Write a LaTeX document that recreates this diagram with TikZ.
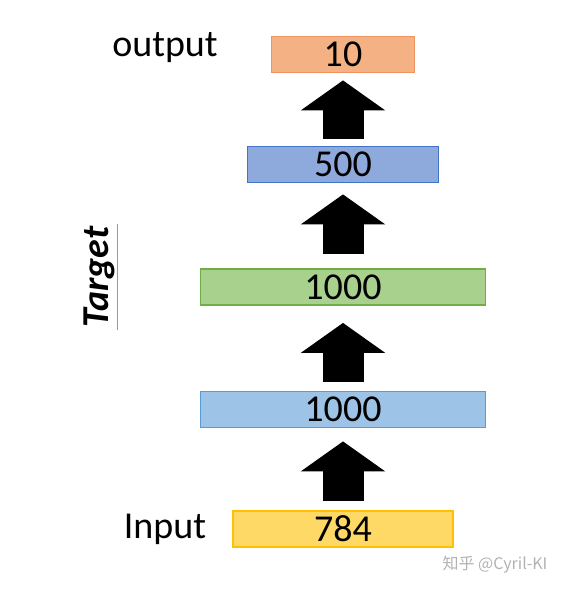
\documentclass[tikz,border=0pt]{standalone}
\usepackage{fontspec}
\setmainfont{Carlito}
\newfontfamily\cjkfont{Noto Sans CJK SC}
\usetikzlibrary{arrows.meta}

\definecolor{outfill}{HTML}{F4B183}
\definecolor{outline}{HTML}{EE9460}
\definecolor{hthreefill}{HTML}{8EA9DB}
\definecolor{hthreeline}{HTML}{4472C4}
\definecolor{htwofill}{HTML}{A9D18E}
\definecolor{htwoline}{HTML}{70AD47}
\definecolor{honefill}{HTML}{9DC3E6}
\definecolor{honeline}{HTML}{5B9BD5}
\definecolor{inpfill}{HTML}{FFD966}
\definecolor{inpline}{HTML}{FFC000}
\definecolor{ulinecol}{HTML}{8FA08A}

\tikzset{
    layer/.style={draw, line width=0.9pt, minimum height=18pt, inner sep=0pt,
        font=\fontsize{19}{22}\selectfont},
    blockarrow/.style={-{Triangle[width=41.5pt, length=15pt]}, line width=20.5pt},
    sidelabel/.style={anchor=base, font=\fontsize{19}{22}\selectfont},
}

\begin{document}
\begin{tikzpicture}[x=0.5pt, y=-0.5pt]
    \useasboundingbox (0, 0) rectangle (564, 590);

    % layers, bottom to top
    \node[layer, fill=inpfill, draw=inpline, minimum width=110pt] (inp) at (343, 529) {784};
    \node[layer, fill=honefill, draw=honeline, minimum width=142.5pt] (h1) at (343, 409.5) {1000};
    \node[layer, fill=htwofill, draw=htwoline, minimum width=142.5pt] (h2) at (343, 287) {1000};
    \node[layer, fill=hthreefill, draw=hthreeline, minimum width=95.5pt] (h3) at (343, 164.5) {500};
    \node[layer, fill=outfill, draw=outline, minimum width=71.5pt] (out) at (343, 54.5) {10};

    \draw[blockarrow, shorten <=4.5pt, shorten >=6.5pt] (inp) -- (h1);
    \draw[blockarrow, shorten <=4.5pt, shorten >=8.5pt] (h1) -- (h2);
    \draw[blockarrow, shorten <=7pt, shorten >=5.5pt] (h2) -- (h3);
    \draw[blockarrow, shorten <=3.5pt, shorten >=3.5pt] (h3) -- (out);

    \node[sidelabel] (inlabel) at (165, 538) {Input};
    \node[sidelabel] (outlabel) at (165, 56) {output};

    \node[rotate=90, inner xsep=1pt, inner ysep=0pt,
        font=\fontsize{19}{22}\selectfont\bfseries\itshape] (tgt) at (99, 277) {Target};
    \draw[ulinecol, line width=0.8pt] ([xshift=1.2pt]tgt.south west) -- ([xshift=1.2pt]tgt.south east);

    \node[text=black!30, font=\cjkfont\fontsize{8}{10}\selectfont] (mark) at (495, 565) {知乎 @Cyril-KI};
\end{tikzpicture}
\end{document}
